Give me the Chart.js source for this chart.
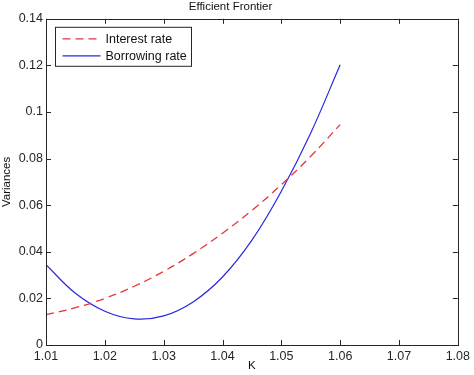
<!DOCTYPE html>
<html>
<head>
<meta charset="utf-8">
<script src="https://cdn.jsdelivr.net/npm/chart.js@4/dist/chart.umd.min.js"></script>
<style>
    html, body { margin: 0; padding: 0; background: #fff; }
    #wrap { width: 474px; height: 375px; position: relative; }
</style>
</head>
<body>
<div id="wrap"><canvas id="chart"></canvas></div>
<script>
// values
const kValues = [1.01, 1.015, 1.02, 1.025, 1.03, 1.035, 1.04, 1.045, 1.05, 1.055, 1.06];
const interestRate = [0.0130, 0.0160, 0.0200, 0.0252, 0.0316, 0.0392, 0.0480, 0.0578, 0.0688, 0.0810, 0.0946];
const borrowingRate = [0.0345, 0.0222, 0.0145, 0.0112, 0.0125, 0.0185, 0.0292, 0.0450, 0.0660, 0.0910, 0.1203];

const xTickValues = [1.01, 1.02, 1.03, 1.04, 1.05, 1.06, 1.07, 1.08];
const xTickLabels = ['1.01', '1.02', '1.03', '1.04', '1.05', '1.06', '1.07', '1.08'];
const yTickValues = [0, 0.02, 0.04, 0.06, 0.08, 0.1, 0.12, 0.14];
const yTickLabels = ['0', '0.02', '0.04', '0.06', '0.08', '0.1', '0.12', '0.14'];

const seriesNames = ['Interest rate', 'Borrowing rate'];

const fontFamily = '"Liberation Sans", Arial, Helvetica, sans-serif';
const axisColor = '#262626';

// box, inward tick marks and the legend box, like a matlab figure
const frameAndLegend = {
    id: 'frameAndLegend',
    afterDraw(chart) {
        const ctx = chart.ctx;
        const area = chart.chartArea;
        const x = chart.scales.x;
        const y = chart.scales.y;
        const tick = 5;

        ctx.save();
        ctx.strokeStyle = axisColor;
        ctx.lineWidth = 1;
        ctx.strokeRect(Math.round(area.left) + 0.5, Math.round(area.top) + 0.5,
            Math.round(area.right - area.left), Math.round(area.bottom - area.top));

        ctx.beginPath();
        xTickValues.forEach(v => {
            const px = Math.round(x.getPixelForValue(v)) + 0.5;
            ctx.moveTo(px, area.bottom);
            ctx.lineTo(px, area.bottom - tick);
            ctx.moveTo(px, area.top);
            ctx.lineTo(px, area.top + tick);
        });
        yTickValues.forEach(v => {
            const py = Math.round(y.getPixelForValue(v)) + 0.5;
            ctx.moveTo(area.left, py);
            ctx.lineTo(area.left + tick, py);
            ctx.moveTo(area.right, py);
            ctx.lineTo(area.right - tick, py);
        });
        ctx.stroke();

        // legend
        const lx = area.left + 9.5;
        const ly = area.top + 8.5;
        const lw = 136;
        const lh = 39;
        ctx.fillStyle = '#fff';
        ctx.fillRect(lx, ly, lw, lh);
        ctx.strokeRect(lx, ly, lw, lh);

        ctx.font = '12.5px ' + fontFamily;
        ctx.textBaseline = 'middle';
        chart.data.datasets.forEach((ds, i) => {
            const rowY = ly + 11.5 + i * 17;
            ctx.strokeStyle = ds.borderColor;
            ctx.lineWidth = ds.borderWidth;
            ctx.setLineDash(ds.borderDash || []);
            ctx.beginPath();
            ctx.moveTo(lx + 7, rowY);
            ctx.lineTo(lx + 45, rowY);
            ctx.stroke();
            ctx.setLineDash([]);
            ctx.fillStyle = '#111';
            ctx.fillText(ds.label, lx + 50, rowY + 0.5);
        });
        ctx.restore();
    }
};

const ctx = document.getElementById('chart').getContext('2d');
new Chart(ctx, {
    type: 'line',
    data: {
        datasets: [
            {
                label: seriesNames[0],
                data: kValues.map((k, i) => ({ x: k, y: interestRate[i] })),
                borderColor: 'rgb(232, 52, 52)',
                borderWidth: 1.3,
                borderDash: [8, 5],
                pointRadius: 0,
                tension: 0.4,
                fill: false
            },
            {
                label: seriesNames[1],
                data: kValues.map((k, i) => ({ x: k, y: borrowingRate[i] })),
                borderColor: 'rgb(40, 40, 225)',
                borderWidth: 1.2,
                pointRadius: 0,
                tension: 0.4,
                fill: false
            }
        ]
    },
    options: {
        responsive: true,
        maintainAspectRatio: false,
        animation: false,
        events: [],
        layout: {
            padding: { left: 0, right: 13, top: 0, bottom: 0 }
        },
        plugins: {
            legend: { display: false },
            tooltip: { enabled: false },
            title: {
                display: true,
                text: 'Efficient Frontier',
                color: '#111',
                font: { family: fontFamily, size: 11.5, weight: 'normal' },
                padding: { top: 0, bottom: 5 }
            }
        },
        scales: {
            x: {
                type: 'linear',
                min: 1.01,
                max: 1.08,
                grid: { display: false, drawTicks: false },
                border: { display: false },
                afterBuildTicks: scale => {
                    scale.ticks = xTickValues.map(v => ({ value: v }));
                },
                afterFit: scale => {
                    scale.height = 30;
                },
                ticks: {
                    autoSkip: false,
                    maxRotation: 0,
                    padding: 4,
                    color: axisColor,
                    font: { family: fontFamily, size: 12.5 },
                    callback: (value, index) => xTickLabels[index]
                },
                title: {
                    display: true,
                    text: 'K',
                    color: '#111',
                    font: { family: fontFamily, size: 11.5 },
                    padding: { top: 0, bottom: 2 }
                }
            },
            y: {
                min: 0,
                max: 0.14,
                grid: { display: false, drawTicks: false },
                border: { display: false },
                afterBuildTicks: scale => {
                    scale.ticks = yTickValues.map(v => ({ value: v }));
                },
                afterFit: scale => {
                    scale.width = 46;
                },
                ticks: {
                    autoSkip: false,
                    padding: 3,
                    color: axisColor,
                    font: { family: fontFamily, size: 12.5 },
                    callback: (value, index) => yTickLabels[index]
                },
                title: {
                    display: true,
                    text: 'Variances',
                    color: '#111',
                    font: { family: fontFamily, size: 11.5 },
                    padding: { top: 0, bottom: 0 }
                }
            }
        }
    },
    plugins: [frameAndLegend]
});
</script>
</body>
</html>
